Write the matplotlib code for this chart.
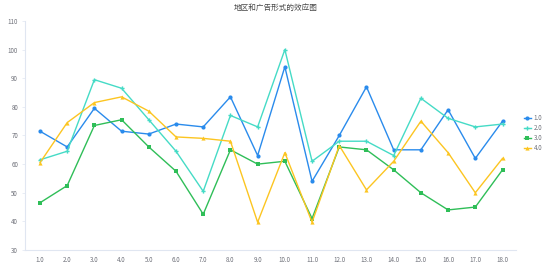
import matplotlib
matplotlib.use("Agg")
import matplotlib.pyplot as plt

plt.rcParams['font.family'] = ['Noto Sans CJK SC', 'DejaVu Sans']

x = [1.0, 2.0, 3.0, 4.0, 5.0, 6.0, 7.0, 8.0, 9.0, 10.0, 11.0, 12.0, 13.0, 14.0, 15.0, 16.0, 17.0, 18.0]
x_labels = [f"{v:.1f}" for v in x]
series_names = ["1.0", "2.0", "3.0", "4.0"]
s1 = [71.5, 66, 79.5, 71.5, 70.5, 74, 73, 83.5, 63, 94, 54, 70, 87, 65, 65, 79, 62, 75]
s2 = [61.5, 64.5, 89.5, 86.5, 75.5, 64.5, 50.5, 77, 73, 100, 61, 68, 68, 63, 83, 76, 73, 74]
s3 = [46.5, 52.5, 73.5, 75.5, 66, 57.5, 42.5, 65, 60, 61, 41, 66, 65, 58, 50, 44, 45, 58]
s4 = [60.5, 74.5, 81.5, 83.5, 78.5, 69.5, 69, 68, 39.7, 64, 39.7, 66.5, 51, 61, 75, 64, 50, 62]
y_ticks = [30, 40, 50, 60, 70, 80, 90, 100, 110]

colors = ["#2a8bec", "#45dbc6", "#2fbe58", "#fcc521"]
markers = ["o", "P", "s", "^"]

fig = plt.figure(figsize=(5.52, 2.69), dpi=100)
ax = fig.add_axes([0.0453, 0.0706, 0.8897, 0.8514])

for data, name, c, m in zip([s1, s2, s3, s4], series_names, colors, markers):
    ax.plot(x, data, color=c, marker=m, markersize=3, linewidth=1.0, label=name,
            markeredgewidth=0)

ax.set_xlim(0.45, 18.5)
ax.set_ylim(30, 110)
ax.set_xticks(x)
ax.set_xticklabels(x_labels)
ax.set_yticks(y_ticks)
ax.tick_params(axis='both', labelsize=4.5, colors='#6e7079', length=2, width=0.5)
ax.tick_params(axis='x', length=0, pad=4)
ax.tick_params(axis='y', color='#e0e6f1', pad=3)
for sp in ['top', 'right']:
    ax.spines[sp].set_visible(False)
for sp in ['left', 'bottom']:
    ax.spines[sp].set_color('#e0e6f1')
    ax.spines[sp].set_linewidth(0.8)

fig.text(0.5, 0.97, "地区和广告形式的效应图", ha='center', va='center', fontsize=5.5, color='#464646')

leg = fig.legend(loc='center left', bbox_to_anchor=(0.943, 0.505), frameon=False,
                 fontsize=4.5, handlelength=1.2, handletextpad=0.4, labelspacing=0.35,
                 borderpad=0)
for t in leg.get_texts():
    t.set_color('#6e7079')

fig.savefig("out.png", dpi=100)
